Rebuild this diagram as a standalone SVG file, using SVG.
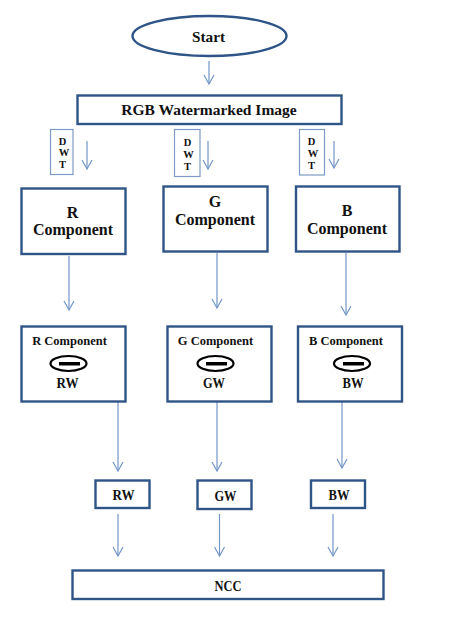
<svg xmlns="http://www.w3.org/2000/svg" width="474" height="620" viewBox="0 0 474 620">
<style>
.n{fill:#fff;stroke:#2f5587;stroke-width:2.400}
.d{fill:#fff;stroke:#7d9ac4;stroke-width:1.200}
text{font-family:"Liberation Serif","Times New Roman",serif;font-weight:bold;fill:#111;text-anchor:middle}
.a{font-size:15.500px}
.b{font-size:16px}
.c{font-size:12.500px}
.w{font-size:14.500px}
.s{font-size:10.500px}
.f{fill:#fff;stroke:#000;stroke-width:2.200}
#connectors line{stroke:#7396c8;stroke-width:1.200;fill:none;marker-end:url(#arr)}
</style>
<defs>
<marker id="arr" markerUnits="userSpaceOnUse" markerWidth="12" markerHeight="12" refX="10" refY="6" orient="auto">
<path d="M1 1 L10 6 L1 11" fill="none" stroke="#7396c8" stroke-width="1.200"/>
</marker>
</defs>
<rect width="474" height="620" fill="#fff"/>
<g id="connectors">
<line x1="209" y1="61" x2="209" y2="84"/>
<line x1="87" y1="141" x2="87" y2="169"/>
<line x1="208" y1="141" x2="208" y2="169"/>
<line x1="334" y1="141" x2="334" y2="168"/>
<line x1="69" y1="256" x2="69" y2="310"/>
<line x1="217" y1="253" x2="217" y2="308"/>
<line x1="346" y1="253" x2="346" y2="315"/>
<line x1="118" y1="402" x2="118" y2="471"/>
<line x1="217" y1="402" x2="217" y2="471"/>
<line x1="342" y1="402" x2="342" y2="468"/>
<line x1="118" y1="514" x2="118" y2="556"/>
<line x1="219.500" y1="514" x2="219.500" y2="556"/>
<line x1="333" y1="514" x2="333" y2="556"/>
</g>
<g id="start"><ellipse class="n" cx="209.500" cy="36" rx="77" ry="20"/><text class="a" x="208.500" y="41.500" textLength="33" lengthAdjust="spacingAndGlyphs">Start</text></g>
<g id="rgb"><rect class="n" x="77.500" y="95.500" width="264" height="28.500"/><text class="a" x="209" y="115">RGB Watermarked Image</text></g>
<g id="dwt-r"><rect class="d" x="50.500" y="129.500" width="22.500" height="45"/><text class="s" x="62.500" y="144.500">D</text><text class="s" x="64" y="156">W</text><text class="s" x="62.500" y="168">T</text></g>
<g id="dwt-g"><rect class="d" x="174.500" y="129.500" width="25.500" height="47"/><text class="s" x="187.500" y="146">D</text><text class="s" x="188.500" y="158">W</text><text class="s" x="187.500" y="170">T</text></g>
<g id="dwt-b"><rect class="d" x="299.500" y="129.500" width="25" height="45.500"/><text class="s" x="311.500" y="145">D</text><text class="s" x="313" y="157">W</text><text class="s" x="311.500" y="169">T</text></g>
<g id="comp-r"><rect class="n" x="21.500" y="188.500" width="104" height="65.500"/><text class="b" x="72.500" y="218">R</text><text class="b" x="73" y="235">Component</text></g>
<g id="comp-g"><rect class="n" x="163.500" y="186.500" width="104" height="65"/><text class="b" x="215" y="207">G</text><text class="b" x="215" y="224.500">Component</text></g>
<g id="comp-b"><rect class="n" x="296" y="186.500" width="103.500" height="65"/><text class="b" x="347" y="215.500">B</text><text class="b" x="347" y="233.500">Component</text></g>
<g id="sub-r"><rect class="n" x="21.500" y="326.500" width="104" height="75"/><text class="c" x="69.500" y="345">R Component</text><ellipse class="f" cx="68.500" cy="363.500" rx="18" ry="7.500"/><rect x="59" y="362" width="21" height="3.500" fill="#000"/><text class="w" x="67.500" y="388" textLength="22" lengthAdjust="spacingAndGlyphs">RW</text></g>
<g id="sub-g"><rect class="n" x="167.500" y="326.500" width="104" height="75"/><text class="c" x="215.500" y="345">G Component</text><ellipse class="f" cx="215.500" cy="363.500" rx="18" ry="7.500"/><rect x="206" y="362" width="21" height="3.500" fill="#000"/><text class="w" x="214" y="388" textLength="22" lengthAdjust="spacingAndGlyphs">GW</text></g>
<g id="sub-b"><rect class="n" x="298" y="326.500" width="104" height="75"/><text class="c" x="346" y="345">B Component</text><ellipse class="f" cx="352" cy="363.500" rx="18" ry="7.500"/><rect x="343" y="362" width="21" height="3.500" fill="#000"/><text class="w" x="353" y="388" textLength="21" lengthAdjust="spacingAndGlyphs">BW</text></g>
<g id="rw"><rect class="n" x="95.500" y="480.500" width="54" height="27.500"/><text class="w" x="123.500" y="499.500" textLength="22" lengthAdjust="spacingAndGlyphs">RW</text></g>
<g id="gw"><rect class="n" x="197.500" y="480.500" width="54" height="28.500"/><text class="w" x="225.500" y="500.500" textLength="22" lengthAdjust="spacingAndGlyphs">GW</text></g>
<g id="bw"><rect class="n" x="311" y="480.500" width="54" height="27.500"/><text class="w" x="339" y="499.500" textLength="21" lengthAdjust="spacingAndGlyphs">BW</text></g>
<g id="ncc"><rect class="n" x="72.500" y="570.500" width="311" height="28.500"/><text class="a" x="228" y="591" textLength="27" lengthAdjust="spacingAndGlyphs">NCC</text></g>
</svg>
